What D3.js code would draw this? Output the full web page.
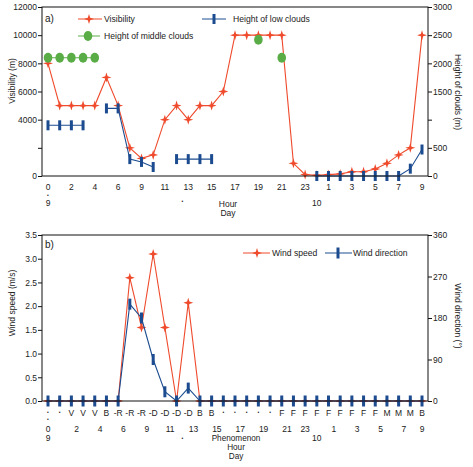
<!DOCTYPE html>
<html>
<head>
<meta charset="utf-8">
<script src="https://cdn.jsdelivr.net/npm/d3@7"></script>
<style>
  body { margin: 0; background: #fff; }
  text { font-family: "Liberation Sans", Arial, sans-serif; fill: #222; }
</style>
</head>
<body>
<script>
// hours along x (one hour of day 9 missing), 33 points
const hours = [0,1,2,3,4,5,6,8,9,10,11,12,13,14,15,16,17,18,19,20,21,22,23,0,1,2,3,4,5,6,7,8,9];
const phenomena = ["•","•","V","V","V","B","-R","-R","-R","-D","-D","-D","-D","B","B","•","•","•","•","•",
                   "F","F","F","F","F","F","F","F","F","M","M","M","B"];
const visibility = [8000,5000,5000,5000,5000,7000,5000,2000,1250,1500,4000,5000,4000,5000,5000,6000,
                    10000,10000,10000,10000,10000,900,100,50,100,150,300,300,500,900,1500,2000,10000];
const lowClouds = [900,900,900,900,null,1200,1200,300,250,160,null,300,300,300,300,
                   null,null,null,null,null,null,null,null,0,0,0,0,0,0,0,0,130,470];
const middleClouds = [2100,2100,2100,2100,2100,null,null,null,null,null,null,null,null,null,null,null,null,null,
                      2420,null,2100,null,null,null,null,null,null,null,null,null,null,null,null];
const windSpeed = [0,0,0,0,0,0,0,2.6,1.55,3.1,1.55,0,2.07,0,0,0,0,0,0,0,0,0,0,0,0,0,0,0,0,0,0,0,0];
const windDir = [0,0,0,0,0,0,0,210,180,90,20,0,28,0,0,0,0,0,0,0,0,0,0,0,0,0,0,0,0,0,0,0,0];
const visTicks = [0,2000,4000,6000,8000,10000,12000];
const cloudTicks = [0,500,1000,1500,2000,2500,3000];
const speedTicks = [0,0.5,1,1.5,2,2.5,3,3.5];
const dirTicks = [0,90,180,270,360];

const W = 473, H = 467;
const red = "#ef4a2c", blue = "#1c4c8f", green = "#5aad46";
const left = 42, right = 428;
const idx = d3.range(hours.length);

const svg = d3.select("body").append("svg").attr("width", W).attr("height", H);

const x = d3.scalePoint().domain(idx).range([48, 422]);

function star(r, w) {
  return `M0,${-r}L${w},${-w}L${r},0L${w},${w}L0,${r}L${-w},${w}L${-r},0L${-w},${-w}Z`;
}

function frame(top, bottom) {
  svg.append("rect").attr("x", left).attr("y", top).attr("width", right - left)
    .attr("height", bottom - top).attr("fill", "none").attr("stroke", "#111").attr("stroke-width", 1);
}

function yAxis(scale, ticks, side, fmt) {
  const ax = (side === "left" ? d3.axisLeft(scale) : d3.axisRight(scale))
    .tickValues(ticks).tickSize(4).tickPadding(1).tickFormat(fmt);
  const g = svg.append("g").attr("transform", `translate(${side === "left" ? left : right},0)`).call(ax);
  g.select(".domain").remove();
  g.selectAll("line").attr("stroke", "#111");
  g.selectAll("text").style("font-size", "8.5px").attr("fill", "#222");
}

function lineOf(xs, ys, vals, color) {
  const ln = d3.line().defined(d => vals[d] !== null).x(d => xs(d)).y(d => ys(vals[d]));
  svg.append("path").attr("d", ln(idx)).attr("fill", "none").attr("stroke", color).attr("stroke-width", 1.1);
}

function stars(ys, vals) {
  svg.append("g").selectAll("path").data(idx.filter(i => vals[i] !== null)).join("path")
    .attr("d", star(5, 1.2)).attr("transform", i => `translate(${x(i)},${ys(vals[i])})`).attr("fill", red);
}

function bars(ys, vals, h) {
  svg.append("g").selectAll("rect").data(idx.filter(i => vals[i] !== null)).join("rect")
    .attr("x", i => x(i) - 1.5).attr("y", i => ys(vals[i]) - h / 2)
    .attr("width", 3).attr("height", h).attr("fill", blue);
}

function label(t, px, py, size, anchor, rot) {
  const tx = svg.append("text").text(t).style("font-size", size + "px")
    .attr("text-anchor", anchor || "middle");
  if (rot) tx.attr("transform", `translate(${px},${py}) rotate(${rot})`);
  else tx.attr("x", px).attr("y", py);
  return tx;
}

// ---------- panel a ----------
const aTop = 7, aBot = 176;
const yVis = d3.scaleLinear().domain([0, 12000]).range([aBot, aTop]);
const yCloud = d3.scaleLinear().domain([0, 3000]).range([aBot, aTop]);

lineOf(x, yVis, visibility, red);
stars(yVis, visibility);
lineOf(x, yCloud, lowClouds, blue);
bars(yCloud, lowClouds, 10);
lineOf(x, yCloud, middleClouds, green);
svg.append("g").selectAll("ellipse").data(idx.filter(i => middleClouds[i] !== null)).join("ellipse")
  .attr("cx", i => x(i)).attr("cy", i => yCloud(middleClouds[i])).attr("rx", 4.3).attr("ry", 5).attr("fill", green);

frame(aTop, aBot);
yAxis(yVis, visTicks, "left", d => d === 2000 ? "" : d);
yAxis(yCloud, cloudTicks, "right", d => d === 1000 ? "" : d);

// x labels a
idx.filter(i => i % 2 === 0).forEach(i => label(hours[i], x(i), 190, 8.5));
label("•", x(0), 197, 5);
label("9", x(0), 206, 8.5);
label("•", (x(0) + x(23)) / 2, 203, 5);
label("10", x(23), 206, 8.5);
label("Hour", 228, 207, 8.5);
label("Day", 228, 216, 8.5);

label("Visibility (m)", 15, 81, 8.5, "middle", -90);
label("Height of clouds (m)", 455, 92, 8.5, "middle", 90);

// legend a
label("a)", 45, 22, 10, "start");
svg.append("line").attr("x1", 78).attr("x2", 102).attr("y1", 19).attr("y2", 19).attr("stroke", red);
svg.append("path").attr("d", star(5, 1.2)).attr("transform", "translate(89,19)").attr("fill", red);
label("Visibility", 104, 22, 8.6, "start");
svg.append("line").attr("x1", 202).attr("x2", 226).attr("y1", 19).attr("y2", 19).attr("stroke", blue);
svg.append("rect").attr("x", 212.5).attr("y", 14).attr("width", 3).attr("height", 10).attr("fill", blue);
label("Height of low clouds", 233, 22, 8.6, "start");
svg.append("line").attr("x1", 78).attr("x2", 100).attr("y1", 36).attr("y2", 36).attr("stroke", green);
svg.append("ellipse").attr("cx", 88).attr("cy", 36).attr("rx", 4.3).attr("ry", 5).attr("fill", green);
label("Height of middle clouds", 104, 39, 8.6, "start");

// ---------- panel b ----------
const bTop = 235, bBot = 401;
const ySpeed = d3.scaleLinear().domain([0, 3.5]).range([bBot, bTop]);
const yDir = d3.scaleLinear().domain([0, 360]).range([bBot, bTop]);

lineOf(x, ySpeed, windSpeed, red);
stars(ySpeed, windSpeed);
lineOf(x, yDir, windDir, blue);
bars(yDir, windDir, 11);

frame(bTop, bBot);
yAxis(ySpeed, speedTicks, "left", d3.format(".1f"));
yAxis(yDir, dirTicks, "right", d => d);

// x labels b
idx.forEach(i => {
  const p = phenomena[i];
  if (p === "•") label(p, x(i), 414, 5);
  else label(p, x(i), 416, 8.5);
});
label("•", x(0), 421, 5);
idx.filter(i => i % 2 === 0).forEach(i => {
  const shift = (i === 0 || i === 22 || i === 32) ? 0 : x.step() * 0.45;
  label(hours[i], x(i) + shift, 432, 8.5);
});
label("9", x(0), 441, 8.5);
label("•", (x(0) + x(23)) / 2, 440, 5);
label("10", x(23), 441, 8.5);
label("Phenomenon", 236, 441, 8.2);
label("Hour", 236, 450, 8.2);
label("Day", 236, 459, 8.2);

label("Wind speed (m/s)", 15, 303, 8.5, "middle", -90);
label("Wind direction (°)", 455, 316, 8.5, "middle", 90);

// legend b
label("b)", 45, 248, 10, "start");
svg.append("line").attr("x1", 243).attr("x2", 270).attr("y1", 253).attr("y2", 253).attr("stroke", red);
svg.append("path").attr("d", star(5, 1.2)).attr("transform", "translate(257,253)").attr("fill", red);
label("Wind speed", 272, 256, 8.6, "start");
svg.append("line").attr("x1", 325).attr("x2", 352).attr("y1", 253).attr("y2", 253).attr("stroke", blue);
svg.append("rect").attr("x", 336.5).attr("y", 247.5).attr("width", 3).attr("height", 11).attr("fill", blue);
label("Wind direction", 353, 256, 8.6, "start");
</script>
</body>
</html>
